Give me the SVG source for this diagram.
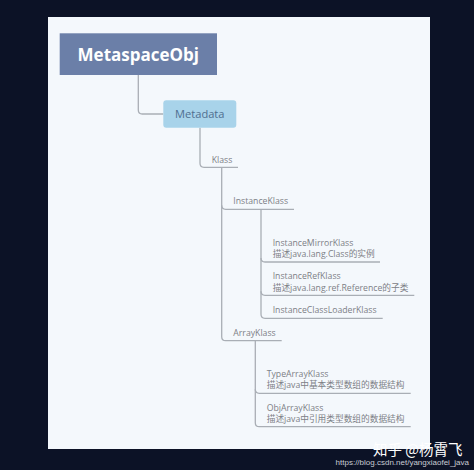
<svg xmlns="http://www.w3.org/2000/svg" width="474" height="470" viewBox="0 0 474 470">
<style>
.lbl{font-family:"Open Sans","Noto Sans CJK SC",sans-serif;font-size:8.7px;fill:#7d8086}
.ln{fill:none;stroke:#a9aeb5;stroke-width:1.3}
</style>
<rect x="0" y="0" width="474" height="470" fill="#0c1226"/>
<rect x="48" y="17" width="382" height="432" fill="#f4f8fc"/>
<g id="connectors">
<path class="ln" d="M138.3 75 V110 Q138.3 114 142.3 114 H163.3"/>
<path class="ln" d="M200 127.7 V163.3 Q200 167.3 204 167.3 H238"/>
<path class="ln" d="M221.7 167.3 V336.7 Q221.7 340.7 225.7 340.7 H281.7"/>
<path class="ln" d="M221.7 205.3 Q221.7 209.3 225.7 209.3 H294"/>
<path class="ln" d="M261 209.3 V314.3 Q261 318.3 265 318.3 H382.7"/>
<path class="ln" d="M261 258 Q261 262 265 262 H380"/>
<path class="ln" d="M261 291.3 Q261 295.3 265 295.3 H414.3"/>
<path class="ln" d="M255.3 340.7 V422.7 Q255.3 426.7 259.3 426.7 H410.7"/>
<path class="ln" d="M255.3 389.3 Q255.3 393.3 259.3 393.3 H410.7"/>
</g>
<g id="metaspaceobj">
<rect x="59.7" y="33.3" width="157.3" height="41.7" fill="#6b7fa8"/>
<text x="138.3" y="61" text-anchor="middle" font-family="Open Sans, sans-serif" font-weight="bold" font-size="17" fill="#ffffff">MetaspaceObj</text>
</g>
<g id="metadata">
<rect x="163.3" y="100.3" width="73" height="27.4" rx="3" fill="#a8d3ea"/>
<text x="199.8" y="118" text-anchor="middle" font-family="Open Sans, sans-serif" font-size="11.1" fill="#4f6e90">Metadata</text>
</g>
<g id="klass"><text class="lbl" x="211.7" y="162.5">Klass</text></g>
<g id="instanceklass"><text class="lbl" x="233.3" y="204">InstanceKlass</text></g>
<g id="instancemirrorklass">
<text class="lbl" x="272.7" y="245.5">InstanceMirrorKlass</text>
<text class="lbl" x="272.7" y="257">描述java.lang.Class的实例</text>
</g>
<g id="instancerefklass">
<text class="lbl" x="272.7" y="279">InstanceRefKlass</text>
<text class="lbl" x="272.7" y="290.5">描述java.lang.ref.Reference的子类</text>
</g>
<g id="instanceclassloaderklass"><text class="lbl" x="272.7" y="313">InstanceClassLoaderKlass</text></g>
<g id="arrayklass"><text class="lbl" x="233.3" y="336">ArrayKlass</text></g>
<g id="typearrayklass">
<text class="lbl" x="266.7" y="376.5">TypeArrayKlass</text>
<text class="lbl" x="266.7" y="388">描述java中基本类型数组的数据结构</text>
</g>
<g id="objarrayklass">
<text class="lbl" x="266.7" y="410.5">ObjArrayKlass</text>
<text class="lbl" x="266.7" y="422">描述java中引用类型数组的数据结构</text>
</g>
<text x="373" y="455" font-family="Noto Sans CJK SC, sans-serif" font-size="14.5" fill="#ffffff">知乎 @杨霄飞</text>
<text x="469" y="464.5" text-anchor="end" font-family="Liberation Sans, sans-serif" font-size="8" fill="#c8ccd4">https://blog.csdn.net/yangxiaofei_java</text>
</svg>
